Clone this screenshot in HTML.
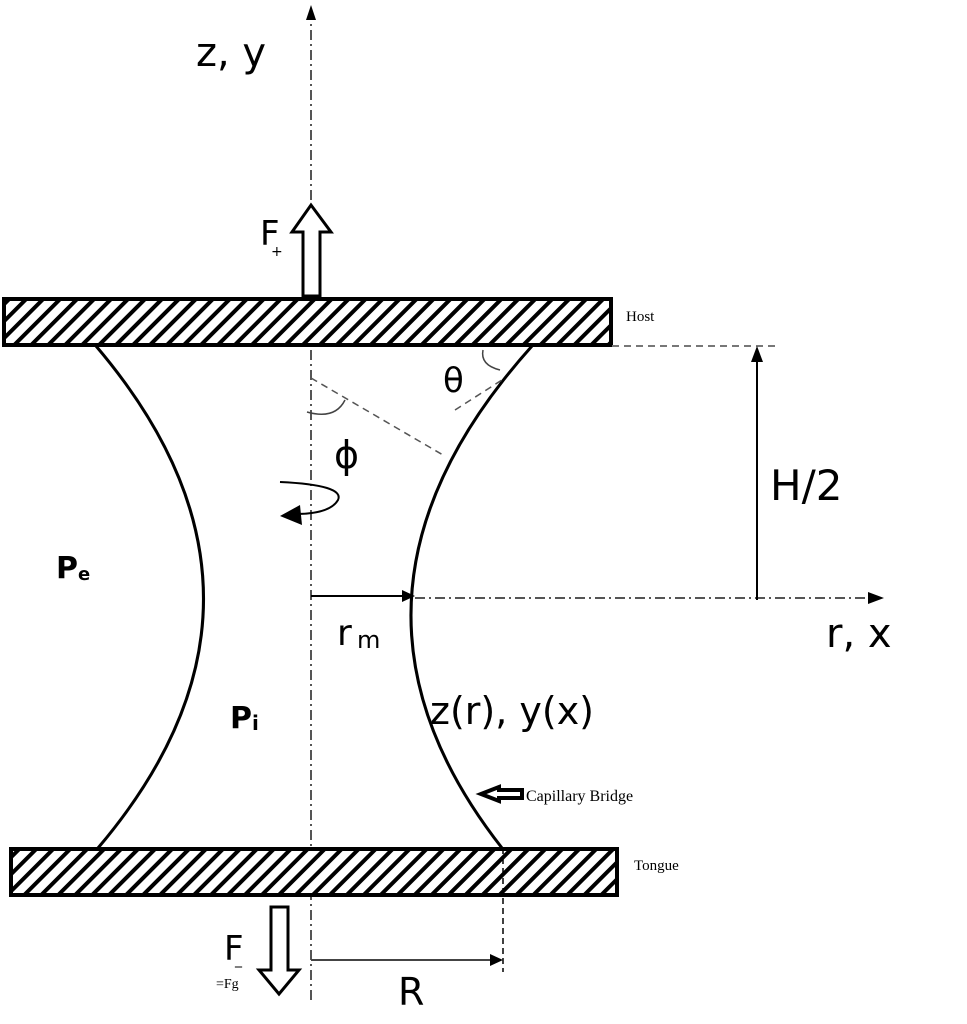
<!DOCTYPE html>
<html><head><meta charset="utf-8"><style>
html,body{margin:0;padding:0;background:#fff;}
svg{display:block;}
.s{font-family:"DejaVu Sans","Liberation Sans",sans-serif;}
.r{font-family:"Liberation Serif",serif;}
</style></head><body>
<svg width="967" height="1024" viewBox="0 0 967 1024" xmlns="http://www.w3.org/2000/svg">
<defs>
<pattern id="h" patternUnits="userSpaceOnUse" width="12" height="12" patternTransform="rotate(45)">
<rect width="12" height="12" fill="#fff"/><rect x="0" y="0" width="4" height="12" fill="#000"/>
</pattern>
</defs>
<line x1="311" y1="1000" x2="311" y2="20" stroke="#555" stroke-width="2" stroke-dasharray="10,4,2,4"/>
<path d="M306,20 L311,5 L316,20 z" fill="#000"/>
<line x1="415" y1="598" x2="870" y2="598" stroke="#555" stroke-width="2" stroke-dasharray="10,4,2,4"/>
<path d="M868,592 L884,598 L868,604 z" fill="#000"/>
<rect x="4" y="299" width="607" height="46" fill="url(#h)" stroke="#000" stroke-width="4"/>
<rect x="11" y="849" width="606" height="46" fill="url(#h)" stroke="#000" stroke-width="4"/>
<path d="M96,346 Q310,598 98,848" fill="none" stroke="#000" stroke-width="3"/>
<path d="M532,346 Q306,598 502,848" fill="none" stroke="#000" stroke-width="3"/>
<line x1="612" y1="346" x2="775" y2="346" stroke="#777" stroke-width="2" stroke-dasharray="7,5"/>
<line x1="311" y1="378" x2="443" y2="455" stroke="#555" stroke-width="1.5" stroke-dasharray="7,5"/>
<line x1="455" y1="410" x2="505" y2="378" stroke="#555" stroke-width="1.5" stroke-dasharray="7,5"/>
<path d="M307,412 Q335,420 345,400" fill="none" stroke="#444" stroke-width="1.5"/>
<path d="M483,350 Q480,365 500,370" fill="none" stroke="#444" stroke-width="1.5"/>
<line x1="503" y1="848" x2="503" y2="972" stroke="#000" stroke-width="1.5" stroke-dasharray="6,4"/>
<line x1="757" y1="600" x2="757" y2="360" stroke="#000" stroke-width="2"/>
<path d="M751,362 L757,346 L763,362 z" fill="#000"/>
<line x1="311" y1="596" x2="404" y2="596" stroke="#000" stroke-width="2"/>
<path d="M402,590 L415,596 L402,602 z" fill="#000"/>
<line x1="311" y1="960" x2="492" y2="960" stroke="#444" stroke-width="2"/>
<path d="M490,954 L503,960 L490,966 z" fill="#000"/>
<path d="M280,482 Q345,485 338,500 Q330,514 295,514" fill="none" stroke="#000" stroke-width="2"/>
<path d="M300,505 L280,516 L302,525 z" fill="#000"/>
<path d="M303,296 L303,232 L292,232 L311,205 L331,232 L320,232 L320,296 z" fill="#fff" stroke="#000" stroke-width="3"/>
<path d="M271,907 L288,907 L288,970 L299,970 L279,994 L259,970 L271,970 z" fill="#fff" stroke="#000" stroke-width="3"/>
<path d="M499,787 L481,794 L499,801 L499,798 L522,798 L522,790 L499,790 z" fill="#fff" stroke="#000" stroke-width="4" stroke-linejoin="miter"/>
<text x="196" y="66" class="s" font-size="40">z, y</text>
<text x="826" y="647" class="s" font-size="40">r, x</text>
<text x="770" y="500" class="s" font-size="42">H/2</text>
<text x="337" y="645" class="s" font-size="36">r</text><text x="357" y="648" class="s" font-size="24">m</text>
<text x="430" y="724" class="s" font-size="38">z(r), y(x)</text>
<text x="56" y="578" class="s" font-size="30" font-weight="bold">P</text><text x="78" y="580" class="s" font-size="18" font-weight="bold">e</text>
<text x="230" y="728" class="s" font-size="30" font-weight="bold">P</text><text x="252" y="730" class="s" font-size="20" font-weight="bold">i</text>
<text x="443" y="392" class="s" font-size="34">θ</text>
<text x="334" y="468" class="s" font-size="38">ϕ</text>
<text x="260" y="245" class="s" font-size="34">F</text><text x="271" y="256" class="s" font-size="14">+</text>
<text x="224" y="960" class="s" font-size="34">F</text><text x="235" y="964" class="s" font-size="14">_</text>
<text x="216" y="988" class="r" font-size="14">=Fg</text>
<text x="398" y="1005" class="s" font-size="38">R</text>
<text x="626" y="321" class="r" font-size="15">Host</text>
<text x="634" y="870" class="r" font-size="15">Tongue</text>
<text x="526" y="801" class="r" font-size="16">Capillary Bridge</text>
</svg>
</body></html>
